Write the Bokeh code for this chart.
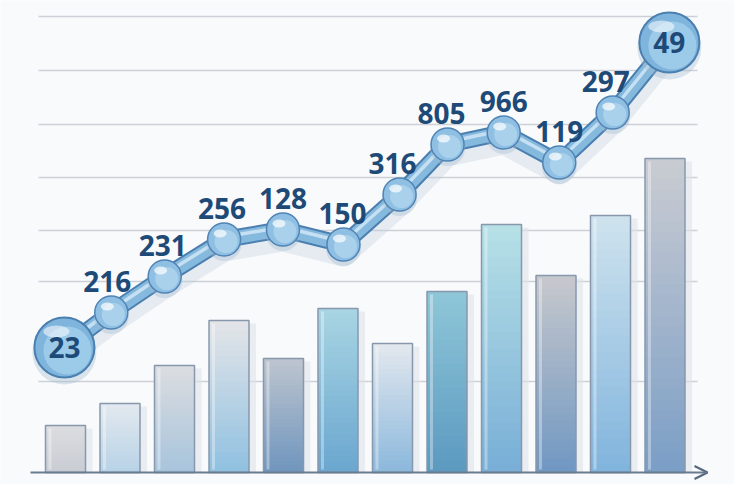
import numpy as np
from bokeh.plotting import figure
from bokeh.models import Range1d, Arrow, OpenHead
from bokeh.core.properties import value
from bokeh.embed import file_html
from bokeh.resources import INLINE

# ---------------- data ----------------
bar_index = list(range(12))
bar_values = [4.7, 6.9, 10.7, 15.2, 11.4, 16.4, 12.9, 18.1, 24.8, 19.7, 25.7, 31.4]
bar_top_colors = ["#dcdde1", "#e3e9ef", "#dcdde0", "#e4e5e8", "#bec5cf", "#a9d5e3",
                  "#e3e8ee", "#8fc7d8", "#b7e0e6", "#c7c8cc", "#cfe3ee", "#caccd2"]
bar_bottom_colors = ["#c8ccd3", "#b7d2e6", "#a7c4dc", "#8fc0e0", "#6f95bd", "#6aa6cf",
                     "#8bb8dc", "#5b99c0", "#78aed7", "#7097c2", "#81b4dd", "#7a9ec6"]

line_x = [-0.02, 0.84, 1.82, 2.91, 3.99, 5.10, 6.13, 7.01, 8.04, 9.06, 10.04, 11.08]
line_y = [12.5, 16.0, 19.6, 23.3, 24.3, 22.8, 27.8, 32.8, 34.0, 31.0, 36.0, 43.0]
line_labels = ["23", "216", "231", "256", "128", "150", "316", "805", "966", "119", "297", "49"]

grid_levels = [9.1, 19.1, 24.2, 29.5, 34.8, 40.2, 45.6]

# ---------------- styles ----------------
PX = 54.5            # pixels per x unit
BAR_W = 40 / PX
label_dx_px = [0, -4, -2, -2, 0, -1, -7, -6, 0, 0, -7, 0]
LABEL_DY = 3.1
BG = "#f9fafc"
TXT = "#1e4a78"
FONT = value("Open Sans")

p = figure(width=734, height=484, output_backend="svg", toolbar_location=None,
           x_range=Range1d(-65 / PX, 669 / PX), y_range=Range1d(-1.2, 47.2),
           min_border=0, background_fill_color=BG, border_fill_color=BG)
p.axis.visible = False
p.grid.visible = False
p.outline_line_color = None


def hex2rgb(h):
    h = h.lstrip("#")
    return np.array([int(h[i:i + 2], 16) for i in (0, 2, 4)], dtype=float)


def rgb2hex(c):
    return "#%02x%02x%02x" % tuple(int(round(v)) for v in c)


# gridlines
p.segment(x0=[-27 / PX] * len(grid_levels), x1=[632 / PX] * len(grid_levels),
          y0=grid_levels, y1=grid_levels, line_color="#cdd1d7", line_width=1.6)

# bar shadows
xs = np.array(bar_index, dtype=float)
p.quad(left=xs + BAR_W / 2, right=xs + BAR_W / 2 + 7 / PX, bottom=0,
       top=np.array(bar_values) - 0.3, fill_color="#dde3ea", fill_alpha=0.6, line_color=None)

# gradient bars
N = 30
L, R, B, T, C = [], [], [], [], []
for i, v in enumerate(bar_values):
    ct, cb = hex2rgb(bar_top_colors[i]), hex2rgb(bar_bottom_colors[i])
    for k in range(N):
        f0, f1 = k / N, (k + 1) / N
        L.append(i - BAR_W / 2)
        R.append(i + BAR_W / 2)
        B.append(v * f0)
        T.append(min(v, v * f1 + 0.12))
        t = (k + 0.5) / N
        C.append(rgb2hex(cb * (1 - t) + ct * t))
p.quad(left=L, right=R, bottom=B, top=T, fill_color=C, line_color=None)
# bar highlight edge & outline
p.quad(left=xs - BAR_W / 2 + 3 / PX, right=xs - BAR_W / 2 + 6 / PX, bottom=0.3,
       top=np.array(bar_values) - 0.3, fill_color="white", fill_alpha=0.35, line_color=None)
p.quad(left=xs - BAR_W / 2, right=xs + BAR_W / 2, bottom=0, top=bar_values,
       fill_color=None, line_color="#8798ad", line_width=1.5)

# axis with arrow
p.add_layout(Arrow(end=OpenHead(size=13, line_color="#55687f", line_width=2.2),
                   x_start=-35 / PX, y_start=0, x_end=642 / PX, y_end=0,
                   line_color="#6a7b90", line_width=2))

# tube line
ly = np.array(line_y)
p.line(line_x, ly - 1.0, line_color="#b9c9da", line_width=24, line_alpha=0.3, line_join="round", line_cap="round")
p.line(line_x, line_y, line_color="#4a7fb0", line_width=17, line_join="round", line_cap="round")
p.line(line_x, line_y, line_color="#86b9de", line_width=13, line_join="round", line_cap="round")
p.line(line_x, ly + 0.25, line_color="#d6eaf7", line_width=3.5, line_alpha=0.8, line_join="round", line_cap="round")

# beads
mid_x, mid_y = line_x[1:-1], line_y[1:-1]
p.scatter(mid_x, np.array(mid_y) - 0.4, size=35, fill_color="#9fb6cc", fill_alpha=0.35, line_color=None)
p.scatter(mid_x, mid_y, size=33, fill_color="#8fbfe2", line_color="#4f84b5", line_width=1.5)
p.scatter(np.array(mid_x) + 2 / PX, np.array(mid_y) - 0.2, size=23, fill_color="#a9d1ec", line_color=None)
p.ellipse(np.array(mid_x) - 4 / PX, np.array(mid_y) + 0.6, width=13, height=8,
          width_units="screen", height_units="screen", fill_color="white", fill_alpha=0.7, line_color=None)

# big end bubbles
end_x, end_y = [line_x[0], line_x[-1]], [line_y[0], line_y[-1]]
p.scatter(end_x, np.array(end_y) - 0.5, size=64, fill_color="#9fb6cc", fill_alpha=0.35, line_color=None)
p.scatter(end_x, end_y, size=60, fill_color="#7fb4dc", line_color="#4a7fb0", line_width=2)
p.scatter(np.array(end_x) + 3 / PX, np.array(end_y) - 0.3, size=48, fill_color="#9ccbea", line_color=None)
p.ellipse(np.array(end_x) - 8 / PX, np.array(end_y) + 1.6, width=26, height=12,
          width_units="screen", height_units="screen", fill_color="white", fill_alpha=0.55, line_color=None)

# labels
lab_x = [x + dx / PX for x, dx in zip(line_x, label_dx_px)]
lab_y = [line_y[0]] + [y + LABEL_DY for y in line_y[1:-1]] + [line_y[-1]]
p.text(lab_x, lab_y, text=line_labels, text_font=FONT, text_font_style="bold",
       text_font_size="28px", text_color=TXT, text_align="center", text_baseline="middle")

open("out.html", "w").write(file_html(p, INLINE))
